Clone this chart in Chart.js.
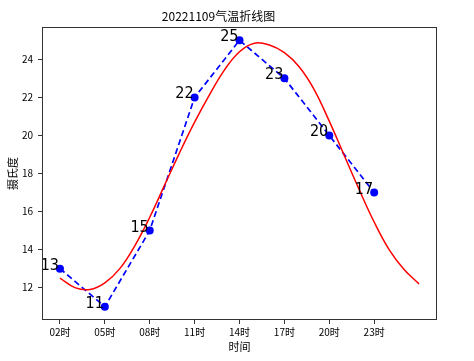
<!DOCTYPE html>
<html lang="zh">
<head>
    <meta charset="UTF-8">
    <title>20221109气温折线图</title>
    <script src="https://cdn.jsdelivr.net/npm/chart.js"></script>
    <style>
        body {
            margin: 0;
            background: #fff;
        }
        #wrap {
            width: 474px;
            height: 361px;
        }
    </style>
</head>
<body>
    <div id="wrap"><canvas id="tempChart"></canvas></div>
    <script>
        // 测量数据
        const hours = [2, 5, 8, 11, 14, 17, 20, 23];
        const hourLabels = ['02时', '05时', '08时', '11时', '14时', '17时', '20时', '23时'];
        const temps = [13, 11, 15, 22, 25, 23, 20, 17];

        // 红色拟合曲线
        const fitHours = [2, 3, 4, 5, 6, 7, 8, 9, 10, 11, 12, 13, 14, 15, 16, 17, 18, 19, 20, 21, 22, 23, 24, 25, 26];
        const fitTemps = [12.5, 12.0, 11.9, 12.25, 13.0, 14.2, 15.7, 17.4, 19.1, 20.7, 22.15, 23.45, 24.4, 24.85, 24.75,
                          24.35, 23.6, 22.4, 20.75, 18.95, 17.15, 15.45, 14.0, 12.95, 12.2];

        const yTicks = [12, 14, 16, 18, 20, 22, 24];

        const CJK = '"Noto Sans CJK SC", "DejaVu Sans", sans-serif';

        const framePlugin = {
            id: 'frame',
            afterDatasetsDraw(chart) {
                const { ctx, chartArea: a } = chart;
                ctx.save();
                // 数值标签
                const meta = chart.getDatasetMeta(0);
                ctx.font = '16px "Liberation Sans Narrow", "DejaVu Sans Condensed", sans-serif';
                ctx.fillStyle = '#000';
                ctx.textAlign = 'right';
                ctx.textBaseline = 'alphabetic';
                meta.data.forEach((pt, i) => {
                    ctx.fillText(String(temps[i]), pt.x - 1, pt.y + 1);
                });
                // 边框
                ctx.strokeStyle = '#333';
                ctx.lineWidth = 1;
                ctx.strokeRect(a.left + 0.5, a.top + 0.5, a.right - a.left - 1, a.bottom - a.top - 1);
                ctx.restore();
            }
        };

        const ctx = document.getElementById('tempChart').getContext('2d');
        new Chart(ctx, {
            type: 'line',
            data: {
                datasets: [{
                    label: '气温',
                    data: hours.map((h, i) => ({ x: h, y: temps[i] })),
                    borderColor: 'blue',
                    backgroundColor: 'blue',
                    borderWidth: 1.7,
                    borderDash: [6, 3.5],
                    pointRadius: 4,
                    pointBorderWidth: 0,
                    tension: 0,
                    order: 2
                }, {
                    label: '拟合',
                    data: fitHours.map((h, i) => ({ x: h, y: fitTemps[i] })),
                    borderColor: 'red',
                    borderWidth: 1.5,
                    pointRadius: 0,
                    tension: 0.4,
                    order: 1
                }]
            },
            options: {
                responsive: true,
                maintainAspectRatio: false,
                animation: false,
                layout: {
                    padding: { left: 0, top: 0, right: 37, bottom: 0 },
                    autoPadding: false
                },
                plugins: {
                    legend: { display: false },
                    tooltip: { enabled: false },
                    title: {
                        display: true,
                        text: '20221109气温折线图',
                        color: '#000',
                        font: { family: CJK, size: 12, weight: 'normal' },
                        padding: { top: 9, bottom: 3.6 }
                    }
                },
                scales: {
                    x: {
                        type: 'linear',
                        min: 0.8,
                        max: 27.2,
                        afterBuildTicks: s => { s.ticks = hours.map(v => ({ value: v })); },
                        afterFit: s => { s.height = 41; },
                        grid: { drawOnChartArea: false, drawTicks: true, tickLength: 4, color: '#333' },
                        border: { display: false },
                        ticks: {
                            autoSkip: false,
                            maxRotation: 0,
                            padding: 2,
                            color: '#000',
                            font: { family: CJK, size: 10 },
                            callback: v => hourLabels[hours.indexOf(v)]
                        },
                        title: {
                            display: true,
                            text: '时间',
                            color: '#000',
                            font: { family: CJK, size: 11 },
                            padding: { top: 0, bottom: 7.4 }
                        }
                    },
                    y: {
                        min: 10.3,
                        max: 25.7,
                        afterBuildTicks: s => { s.ticks = yTicks.map(v => ({ value: v })); },
                        afterFit: s => { s.width = 42; },
                        grid: { drawOnChartArea: false, drawTicks: true, tickLength: 4, color: '#333' },
                        border: { display: false },
                        ticks: {
                            padding: 5,
                            color: '#000',
                            font: { family: CJK, size: 10 }
                        },
                        title: {
                            display: true,
                            text: '摄氏度',
                            color: '#000',
                            font: { family: CJK, size: 11 },
                            padding: { top: 6, bottom: 0 }
                        }
                    }
                }
            },
            plugins: [framePlugin]
        });
    </script>
</body>
</html>
